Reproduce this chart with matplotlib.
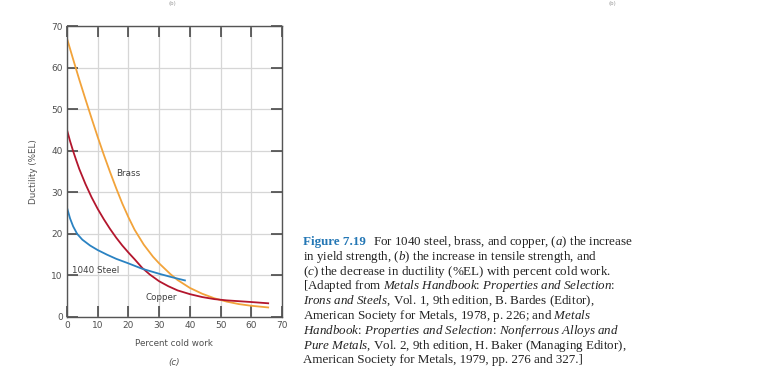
import matplotlib
matplotlib.use("Agg")
import matplotlib.pyplot as plt

plt.rcParams['font.family'] = ['DejaVu Sans']
plt.rcParams['mathtext.fontset'] = 'custom'
plt.rcParams['mathtext.rm'] = 'Liberation Serif'
plt.rcParams['mathtext.it'] = 'Liberation Serif:italic'
plt.rcParams['mathtext.bf'] = 'Liberation Serif:bold'

# values (percent cold work vs %EL)
brass_x = [0, 2, 4, 6, 8, 10, 12, 14, 16, 18, 20, 22, 25, 28, 30, 33.7, 36, 40, 44, 48, 52, 56, 60, 65.5]
brass_y = [67, 62.0, 57.1, 52.4, 47.8, 43.3, 39.0, 34.9, 31.0, 27.3, 24.0, 21.0, 17.4, 14.5, 12.9, 10.3, 8.9, 7.0, 5.6, 4.5, 3.7, 3.1, 2.7, 2.3]

copper_x = [0, 1, 2, 3, 4, 6, 8, 10, 12, 14, 16, 18, 20, 22, 24.5, 27, 30, 33, 36, 40, 44, 48, 52, 56, 60, 65.5]
copper_y = [45, 42.3, 39.9, 37.7, 35.6, 32.0, 28.8, 26.0, 23.5, 21.2, 19.1, 17.2, 15.5, 13.9, 11.8, 10.2, 8.6, 7.4, 6.4, 5.5, 4.8, 4.3, 4.0, 3.8, 3.6, 3.3]

steel_x = [0, 1, 2, 3.3, 5, 7.5, 10, 13, 16, 20, 24.5, 30, 34, 38.4]
steel_y = [26.3, 23.7, 21.8, 20, 18.6, 17.2, 16.1, 15, 14, 12.9, 11.6, 10.4, 9.6, 8.8]

ticks = [0, 10, 20, 30, 40, 50, 60, 70]

caption = [
    r"in yield strength, ($\mathit{b}$) the increase in tensile strength, and",
    r"($\mathit{c}$) the decrease in ductility (%EL) with percent cold work.",
    r"[Adapted from $\mathit{Metals\ Handbook}$: $\mathit{Properties\ and\ Selection}$:",
    r"$\mathit{Irons\ and\ Steels}$, Vol. 1, 9th edition, B. Bardes (Editor),",
    r"American Society for Metals, 1978, p. 226; and $\mathit{Metals}$",
    r"$\mathit{Handbook}$: $\mathit{Properties\ and\ Selection}$: $\mathit{Nonferrous\ Alloys\ and}$",
    r"$\mathit{Pure\ Metals}$, Vol. 2, 9th edition, H. Baker (Managing Editor),",
    r"American Society for Metals, 1979, pp. 276 and 327.]",
]

W, H = 771, 376
fig = plt.figure(figsize=(W / 100, H / 100), dpi=100)
ax = fig.add_axes([67 / W, 1 - 317 / H, 215 / W, 291 / H])

ax.plot(brass_x, brass_y, color='#F2A33A', lw=1.3)
ax.plot(copper_x, copper_y, color='#B3162D', lw=1.3)
ax.plot(steel_x, steel_y, color='#2A82C2', lw=1.3)

ax.set_xlim(0, 70)
ax.set_ylim(0, 70)
ax.set_xticks(ticks)
ax.set_yticks(ticks)
ax.grid(True, color='#D6D6D6', lw=0.9)
ax.set_axisbelow(True)
ax.tick_params(direction='in', length=8, width=1.1, color='#3a3a3a',
               top=True, right=True, labelsize=6.5, labelcolor='#505050', pad=3)
for s in ax.spines.values():
    s.set_color('#555555')
    s.set_linewidth(1.0)

ax.text(16, 34.5, 'Brass', fontsize=6.3, color='#404040', va='center')
ax.text(1.6, 11.2, '1040 Steel', fontsize=6.3, color='#404040', va='center')
ax.text(25.6, 4.8, 'Copper', fontsize=6.3, color='#404040', va='center')

fig.text(33 / W, 1 - 172 / H, 'Ductility (%EL)', rotation=90, fontsize=6.3,
         color='#505050', ha='center', va='center')
fig.text(174 / W, 1 - 344 / H, 'Percent cold work', fontsize=6.3,
         color='#505050', ha='center', va='center')
fig.text(174 / W, 1 - 362 / H, '(c)', fontsize=6.3, style='italic',
         color='#505050', ha='center', va='center')

# labels of the panels above, mostly cut off in the original
fig.text(172 / W, 0.997, '(b)', fontsize=4, color='#999999', ha='center', va='top')
fig.text(612 / W, 0.997, '(b)', fontsize=4, color='#999999', ha='center', va='top')

fs = 9.4
y0 = 242
step = 14.8
fig.text(303 / W, 1 - y0 / H, 'Figure 7.19', family='Liberation Serif', weight='bold',
         color='#2477B5', fontsize=fs, va='center')
fig.text(373 / W, 1 - y0 / H, r'For 1040 steel, brass, and copper, ($\mathit{a}$) the increase',
         family='Liberation Serif', color='#222222', fontsize=fs, va='center')
for i, line in enumerate(caption):
    fig.text(303 / W, 1 - (y0 + step * (i + 1)) / H, line, family='Liberation Serif',
             color='#222222', fontsize=fs, va='center')

fig.savefig('out.png', dpi=100)
